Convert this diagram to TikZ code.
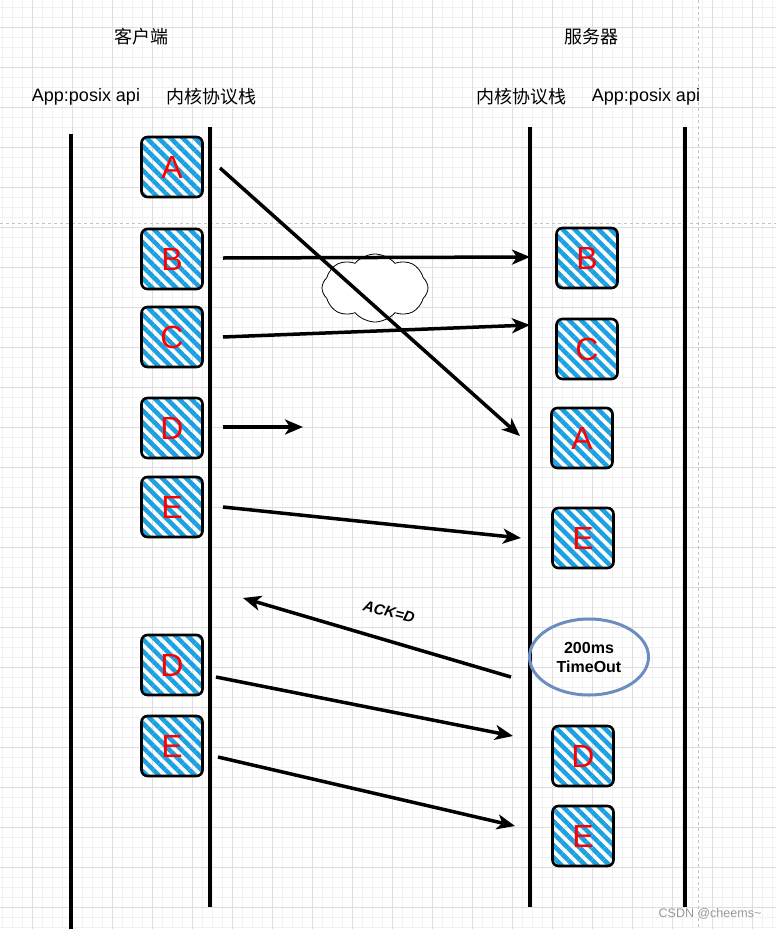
\documentclass[tikz,border=0pt]{standalone}
\usepackage{fontspec}
\setmainfont{Liberation Sans}
\newfontfamily\cjk{Noto Sans CJK SC}
\usepackage{xcolor}
\usepackage{tikz}
\usetikzlibrary{arrows.meta,positioning,shapes.geometric,shapes.symbols,patterns.meta}

\definecolor{hatchblue}{HTML}{1BA1E2}
\definecolor{ringblue}{HTML}{6C8EBF}
\definecolor{gridlight}{HTML}{F1F1F1}
\definecolor{griddark}{HTML}{DEDEDE}
\definecolor{pageline}{HTML}{C4C4C4}

\begin{document}
\begin{tikzpicture}[
  x=1pt, y=-1pt,
  packet/.style={rectangle, draw, line width=2.6pt, rounded corners=6pt,
                 minimum width=61pt, minimum height=60pt, inner sep=0pt,
                 pattern={Lines[angle=-45, distance=8.5pt, line width=4.5pt]},
                 pattern color=hatchblue, text=red,
                 font=\fontsize{32}{32}\selectfont},
  lane/.style={line width=3.5pt},
  msg/.style={line width=3.5pt, -{Stealth[length=18pt, width=15pt, inset=5pt]}},
  head/.style={font=\cjk\fontsize{18}{20}\selectfont},
  api/.style={font=\fontsize{18}{20}\selectfont},
  minorline/.style={gridlight, line width=0.8pt},
  majorline/.style={griddark, line width=0.9pt},
  pagebreak/.style={pageline, line width=0.8pt, dash pattern=on 3pt off 3pt},
]
\useasboundingbox (0,0) rectangle (776,929);
\fill[white] (0,0) rectangle (776,929);

% Grid
\foreach \gx in {2,12,...,772} \draw[minorline] (\gx,0) -- (\gx,929);
\foreach \gy in {7,17,...,927} \draw[minorline] (0,\gy) -- (776,\gy);
\foreach \gx in {32,72,...,752} \draw[majorline] (\gx,0) -- (\gx,929);
\foreach \gy in {27,67,...,907} \draw[majorline] (0,\gy) -- (776,\gy);
\draw[pagebreak] (0,223) -- (776,223);
\draw[pagebreak] (698,0) -- (698,929);

% Titles
\node[head] (clientTitle) at (141,37) {客户端};
\node[head] (serverTitle) at (591,37) {服务器};
\node[api] (cAppLbl) at (86,97) {App:posix api};
\node[head] (cKernLbl) at (211,97) {内核协议栈};
\node[head] (sKernLbl) at (521,97) {内核协议栈};
\node[api] (sAppLbl) at (646,97) {App:posix api};

% Lanes
\coordinate (cAppTop) at (71,134);   \coordinate (cAppBot) at (71,929);
\coordinate (cKernTop) at (210,127); \coordinate (cKernBot) at (210,907);
\coordinate (sKernTop) at (530,127); \coordinate (sKernBot) at (530,907);
\coordinate (sAppTop) at (685,127);  \coordinate (sAppBot) at (685,907);
\draw[lane] (cAppTop) -- (cAppBot);
\draw[lane] (cKernTop) -- (cKernBot);
\draw[lane] (sKernTop) -- (sKernBot);
\draw[lane] (sAppTop) -- (sAppBot);

% Lost segment
\node[cloud, draw, fill=white, line width=0.8pt, cloud puffs=8,
      cloud puff arc=100, aspect=1.6,
      minimum width=106pt, minimum height=68pt] (lossCloud) at (375,288) {};

% Client packets
\node[packet] (cA) at (172,167) {A};
\node[packet] (cB) at (172,259) {B};
\node[packet] (cC) at (172,337) {C};
\node[packet] (cD) at (172,428) {D};
\node[packet] (cE) at (172,507) {E};
\node[packet] (cD2) at (172,665) {D};
\node[packet] (cE2) at (172,746) {E};

% Server packets
\node[packet] (sB) at (587,258) {B};
\node[packet] (sC) at (587,349) {C};
\node[packet] (sA) at (582,438) {A};
\node[packet] (sE) at (583,538) {E};
\node[packet] (sD2) at (583,756) {D};
\node[packet] (sE2) at (583,836) {E};

% Timeout
\node[ellipse, draw=ringblue, line width=3pt, minimum width=119pt,
      minimum height=76pt, align=center,
      font=\bfseries\fontsize{16}{19}\selectfont] (rto) at (589,657) {200ms\\TimeOut};

% Stream ends
\coordinate (aOut) at (220,168);  \coordinate (aIn) at (520,436);
\coordinate (bOut) at (223,258);  \coordinate (bIn) at (530,257);
\coordinate (cOut) at (223,337);  \coordinate (cIn) at (530,325);
\coordinate (dOut) at (223,427);  \coordinate (dLost) at (303,427);
\coordinate (eOut) at (223,507);  \coordinate (eIn) at (521,538);
\coordinate (ackOut) at (511,677); \coordinate (ackIn) at (243,598);
\coordinate (d2Out) at (216,677); \coordinate (d2In) at (513,736);
\coordinate (e2Out) at (218,757); \coordinate (e2In) at (515,826);

% Streams
\draw[msg] (aOut) -- (aIn);
\draw[msg] (bOut) -- (bIn);
\draw[msg] (cOut) -- (cIn);
\draw[msg] (dOut) -- (dLost);
\draw[msg] (eOut) -- (eIn);
\draw[msg] (ackOut) -- (ackIn);
\node[rotate=-14, font=\bfseries\itshape\fontsize{15}{15}\selectfont] (ackLbl) at (389,612) {ACK=D};
\draw[msg] (d2Out) -- (d2In);
\draw[msg] (e2Out) -- (e2In);

% Watermark
\node[gray!80, font=\fontsize{12.5}{12.5}\selectfont] (mark) at (710,914) {CSDN @cheems\textasciitilde};
\end{tikzpicture}
\end{document}
